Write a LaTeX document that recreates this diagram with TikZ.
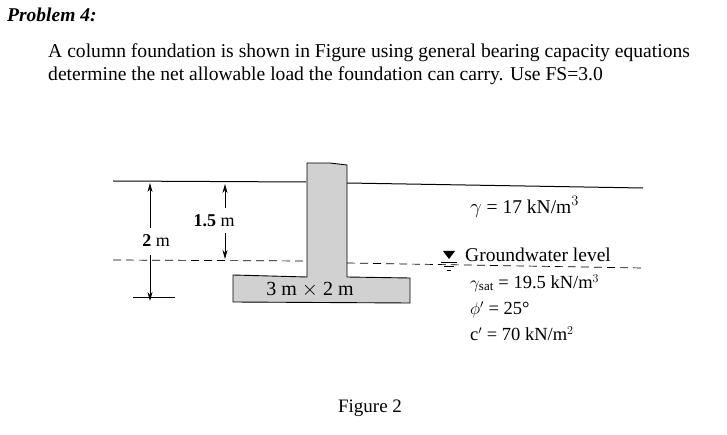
\documentclass[tikz,border=0pt]{standalone}
\usepackage{fontspec}
\setmainfont{Liberation Serif}
\usetikzlibrary{arrows.meta}
\begin{document}
\begin{tikzpicture}[x=1pt,y=-1pt,
  lbl/.style={inner sep=0pt,anchor=west,font=\fontsize{19.6}{22}\selectfont},
  flbl/.style={inner sep=0pt,anchor=west,font=\fontsize{19.5}{22}\selectfont},
  slbl/.style={inner sep=0pt,anchor=west,font=\fontsize{18.5}{22}\selectfont},
  dim/.style={line width=0.7pt,-{Stealth[length=9pt,width=5pt]}},
  conc/.style={fill=black!18,draw=black,line width=0.9pt}]
\useasboundingbox (0,0) rectangle (727,435);
\node[lbl,font=\fontsize{19.5}{22}\selectfont\bfseries\itshape] (prob) at (7,15) {Problem 4:};
\node[lbl] (l1) at (48,53) {A column foundation is shown in Figure using general bearing capacity equations};
\node[lbl] (l2) at (48,76) {determine the net allowable load the foundation can carry. Use FS=3.0};
% ground line
\draw[line width=1pt] (113,181) -- (306,182);
\draw[line width=1pt] (347,183) -- (643,188);
% water line
\draw[dash pattern=on 8pt off 5pt,line width=0.7pt] (113,260) -- (306,261);
\draw[dash pattern=on 8pt off 5pt,line width=0.7pt] (347,263) -- (643,268);
% concrete
\draw[conc] (307,277) -- (307,163) -- (330,163) -- (347,165) -- (347,277) -- (410,278) -- (410,303) -- (233,302) -- (233,275) -- cycle;
\node[inner sep=0pt,font=\fontsize{20}{22}\selectfont] (fs) at (310,290) {3 m $\times$ 2 m};
% dims
\draw[dim] (150,228) -- (150,183);
\draw[dim] (150,255) -- (150,301);
\node[inner sep=0pt,font=\fontsize{18}{20}\selectfont] (d2) at (156,241) {\textbf{2} m};
\draw[line width=0.6pt] (133,297) -- (175,297);
\draw[dim] (225,208) -- (225,184);
\draw[dim] (225,233) -- (225,259);
\node[inner sep=0pt,font=\fontsize{18}{20}\selectfont] (d15) at (214,221) {\textbf{1.5} m};
% water symbol
\fill (443,251) -- (455,251) -- (449,259) -- cycle;
\draw[line width=0.6pt] (441,262) -- (457,262) (444,266) -- (454,266) (447,270) -- (451,270);
\node[flbl] (g1) at (470,207) {$\gamma$ = 17 kN/m$^3$};
\node[flbl] (gw) at (465,255) {Groundwater level};
\node[slbl] (g2) at (470,283) {$\gamma_{\mathrm{sat}}$ = 19.5 kN/m$^3$};
\node[slbl] (ph) at (470,310) {$\phi'$ = 25°};
\node[slbl] (cc) at (470,334) {c$'$ = 70 kN/m$^2$};
\node[inner sep=0pt,font=\fontsize{19}{22}\selectfont] (fig) at (370,408) {Figure 2};
\end{tikzpicture}
\end{document}
